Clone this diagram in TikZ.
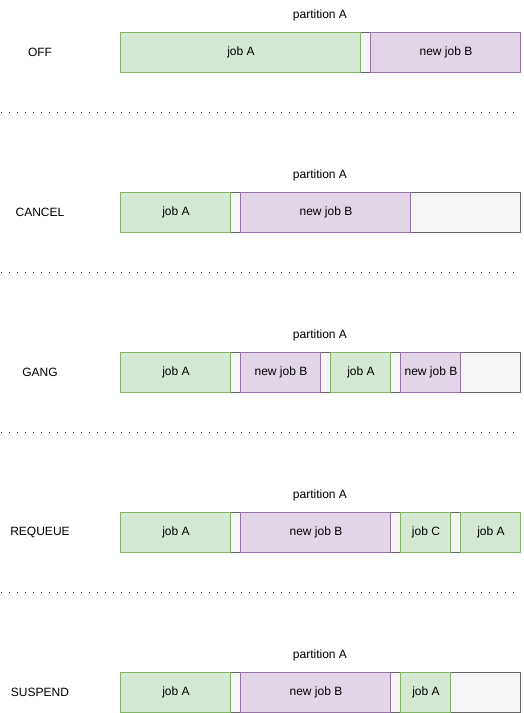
\documentclass[tikz,border=0pt]{standalone}
\usepackage{fontspec}
\setmainfont{Liberation Sans}
\definecolor{gfill}{HTML}{D5E8D4}
\definecolor{gline}{HTML}{82B366}
\definecolor{pfill}{HTML}{E1D5E7}
\definecolor{pline}{HTML}{9673A6}
\definecolor{rfill}{HTML}{F5F5F5}
\definecolor{rline}{HTML}{666666}
\begin{document}
\begin{tikzpicture}[x=1pt,y=-1pt,
  every node/.style={font=\fontsize{12}{14}\selectfont, inner sep=0pt},
  part/.style={draw=rline, fill=rfill, line width=1pt},
  jobg/.style={draw=gline, fill=gfill, line width=1pt},
  jobp/.style={draw=pline, fill=pfill, line width=1pt},
  sep/.style={line width=1.6pt, dash pattern=on 1.6pt off 6.4pt, color=black!85}]
\useasboundingbox (0,0) rectangle (523,713);
% helper macro
\newcommand{\jobbox}[6]{% style, name, x1, x2, y, text
  \draw[#1] (#3,#5) rectangle (#4,#5+40);
  \node (#2) at ({(#3+#4)/2+1},#5+20.5) {#6};}
% Row 1 OFF
\node (t1) at (320,15) {partition A};
\node (l1) at (40,52) {OFF};
\draw[part] (120,32) rectangle (520,72);
\jobbox{jobg}{a1}{120}{360}{32}{job A}
\jobbox{jobp}{b1}{370}{520}{32}{new job B}
\draw[sep] (0.8,112.5) -- (517,112.5);
% Row 2 CANCEL
\node (t2) at (320,175) {partition A};
\node (l2) at (40,212) {CANCEL};
\draw[part] (120,192) rectangle (520,232);
\jobbox{jobg}{a2}{120}{230}{192}{job A}
\jobbox{jobp}{b2}{240}{410}{192}{new job B}
\draw[sep] (0.8,272.5) -- (517,272.5);
% Row 3 GANG
\node (t3) at (320,335) {partition A};
\node (l3) at (40,372) {GANG};
\draw[part] (120,352) rectangle (520,392);
\jobbox{jobg}{a3}{120}{230}{352}{job A}
\jobbox{jobp}{b3}{240}{320}{352}{new job B}
\jobbox{jobg}{c3}{330}{390}{352}{job A}
\jobbox{jobp}{d3}{400}{460}{352}{new job B}
\draw[sep] (0.8,432.5) -- (517,432.5);
% Row 4 REQUEUE
\node (t4) at (320,495) {partition A};
\node (l4) at (40,532) {REQUEUE};
\draw[part] (120,512) rectangle (520,552);
\jobbox{jobg}{a4}{120}{230}{512}{job A}
\jobbox{jobp}{b4}{240}{390}{512}{new job B}
\jobbox{jobg}{c4}{400}{450}{512}{job C}
\jobbox{jobg}{d4}{460}{520}{512}{job A}
\draw[sep] (0.8,592.5) -- (517,592.5);
% Row 5 SUSPEND
\node (t5) at (320,655) {partition A};
\node (l5) at (40,692) {SUSPEND};
\draw[part] (120,672) rectangle (520,712);
\jobbox{jobg}{a5}{120}{230}{672}{job A}
\jobbox{jobp}{b5}{240}{390}{672}{new job B}
\jobbox{jobg}{c5}{400}{450}{672}{job A}
\end{tikzpicture}
\end{document}
